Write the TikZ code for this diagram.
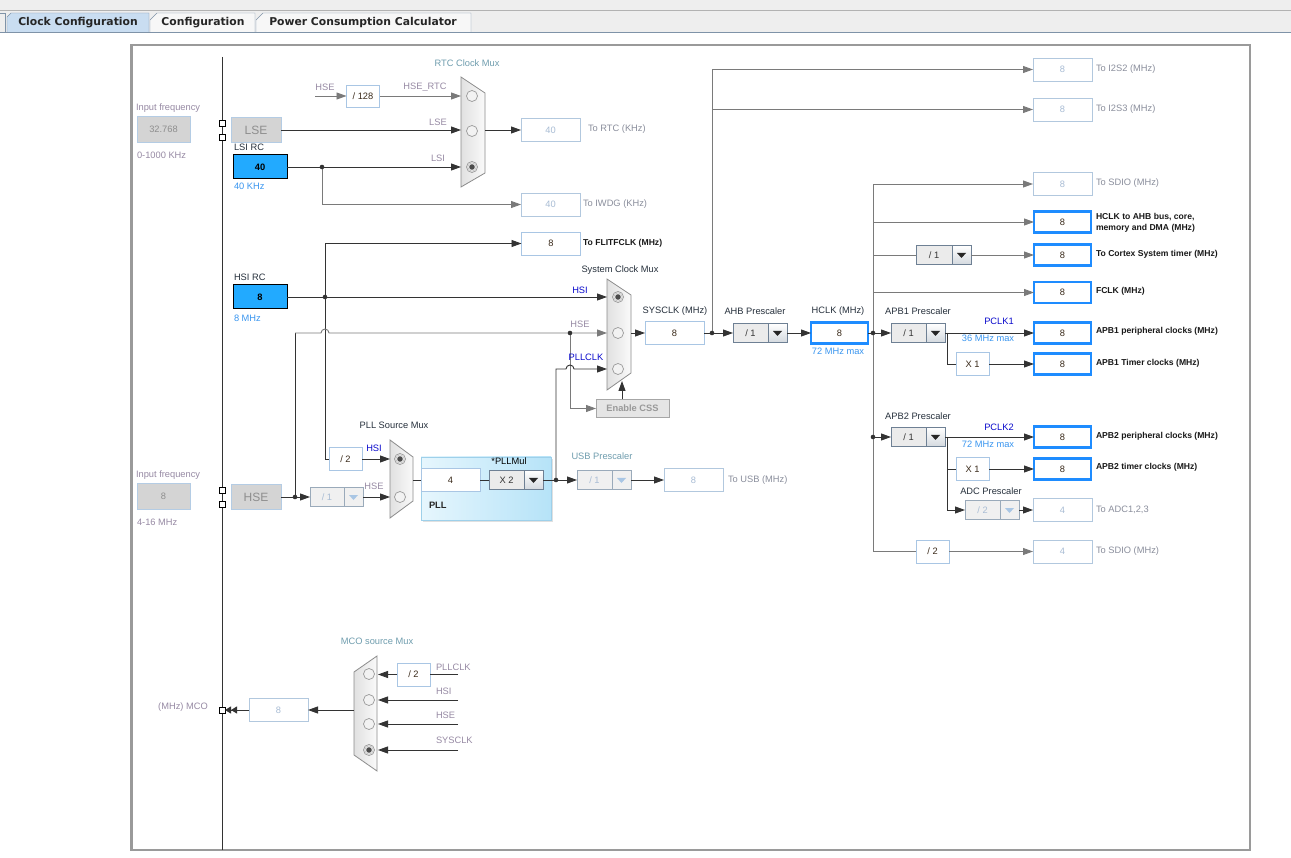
\documentclass[tikz,border=0pt]{standalone}
\usepackage{fontspec}
\setmainfont{Liberation Sans}
\newfontfamily\tabfont{DejaVu Sans}
\usetikzlibrary{arrows.meta,calc}
\definecolor{wireK}{HTML}{333333}
\definecolor{wireG}{HTML}{7A7A7A}
\definecolor{bxBorder}{HTML}{A9C6E4}
\definecolor{bxDis}{HTML}{B2C8DE}
\definecolor{actBlue}{HTML}{1E8CFF}
\definecolor{srcBlue}{HTML}{22AAFF}
\definecolor{lblGray}{HTML}{978AA4}
\definecolor{lblTeal}{HTML}{6F9DAE}
\definecolor{lblDark}{HTML}{26303C}
\definecolor{lblBlue}{HTML}{0A0ACC}
\definecolor{lblLBlue}{HTML}{3A96F0}
\definecolor{outGray}{HTML}{8A8E9C}
\definecolor{muxEdge}{HTML}{8C8C8C}
\definecolor{valK}{HTML}{3A2A1A}
\definecolor{valD}{HTML}{A8BCD4}
\definecolor{grFill}{HTML}{D4D4D4}
\definecolor{grBorder}{HTML}{B4CCE4}
\definecolor{grText}{HTML}{8E8E8E}
\definecolor{tabbg}{HTML}{EEEEEE}
\definecolor{tabEdge}{HTML}{7F93A8}
\definecolor{tabSel}{HTML}{C9DDF1}
\definecolor{frameGray}{HTML}{9A9A9A}
\definecolor{cbEdge}{HTML}{6E8094}
\definecolor{cbEdgeD}{HTML}{9AAABA}
\definecolor{pllL}{HTML}{E6F6FD}
\definecolor{pllR}{HTML}{B6E3F8}
\definecolor{pllEdge}{HTML}{9ED0EA}
\newcommand\fsz{\fontsize{9.3}{11}\selectfont}
\newcommand\fbd{\fontsize{8.6}{11.5}\selectfont\bfseries}
\tikzset{
  every node/.style={inner sep=0pt, outer sep=0pt},
  wk/.style={draw=wireK, line width=0.9},
  wg/.style={draw=wireG, line width=0.9},
  arr/.style={-{Triangle[length=10pt,width=7pt]}},
  obox/.style={draw=bxBorder, fill=white, line width=0.9, minimum width=59, minimum height=23, font=\fsz, text=valK},
  sbox/.style={obox, minimum width=33},
  dbox/.style={draw=bxDis, fill=white, line width=0.9, minimum width=59, minimum height=23, font=\fsz, text=valD},
  abox/.style={draw=actBlue, fill=white, line width=2.2, minimum width=57, minimum height=21, font=\fsz, text=valK},
  srcbox/.style={draw=black, fill=srcBlue, line width=1, minimum width=54, minimum height=24, font=\fsz\bfseries, text=black},
  grbox/.style={draw=grBorder, fill=grFill, line width=0.9, minimum width=50, minimum height=25, font=\fontsize{12}{13}\selectfont, text=grText},
  inbox/.style={draw=grBorder, fill=grFill, line width=0.9, minimum width=53, minimum height=26, font=\fsz, text=grText},
  cssbox/.style={draw=black!35, fill=black!10, line width=0.9, minimum width=73, minimum height=18, font=\fsz\bfseries, text=black!40},
  pinsq/.style={draw=black, fill=white, line width=0.7, minimum size=6},
  cbL/.style={draw=cbEdge, fill=black!8, line width=0.9, minimum height=19, font=\fsz, text=black!80},
  cbR/.style={draw=cbEdge, top color=white, bottom color=cbEdge!30, line width=0.9, minimum width=19, minimum height=19},
  cbLd/.style={draw=cbEdgeD, fill=black!6, line width=0.9, minimum height=19, font=\fsz, text=valD},
  cbRd/.style={draw=cbEdgeD, fill=black!6, line width=0.9, minimum width=19, minimum height=19},
  tri/.style={fill=black!85},
  trid/.style={fill=bxBorder},
  mux/.style={draw=muxEdge, line width=0.8, left color=black!12, right color=black!2},
  radio/.style={draw=black!40, fill=black!5, line width=0.7},
  radiodot/.style={fill=black!70},
  lg/.style={font=\fsz, text=lblGray},
  lt/.style={font=\fsz, text=lblTeal},
  ld/.style={font=\fsz, text=lblDark},
  lb/.style={font=\fsz, text=lblBlue},
  llb/.style={font=\fsz, text=lblLBlue},
  lo/.style={font=\fsz, text=outGray},
  lbold/.style={font=\fbd, text=black!90},
  lmux/.style={font=\fsz, text=lblDark},
  tabtxt/.style={font=\tabfont\fontsize{10.8}{12}\selectfont\bfseries, text=black!85},
}
\newcommand\cmbx[6]{%
  \node[cbL#6, minimum width=#4, anchor=west] (#1) at (#2,#3) {#5};
  \node[cbR#6, anchor=west] (#1r) at (#1.east) {};
  \fill[tri#6] ($(#1r.center)+(-4.5,-2)$) -- ++(9,0) -- ++(-4.5,5) -- cycle;
}
\newcommand\rad[2]{\filldraw[radio] (#1,#2) circle[radius=5.5];}
\newcommand\radsel[2]{\filldraw[radio] (#1,#2) circle[radius=5.5]; \draw[black!25, line width=0.6] (#1,#2) circle[radius=4.2]; \fill[radiodot] (#1,#2) circle[radius=2.8];}
\newcommand\jdot[1]{\fill[wireK] (#1) circle[radius=2.3];}
\begin{document}
\begin{tikzpicture}[x=1pt,y=-1pt]
\useasboundingbox (0,0) rectangle (1291,858);
\fill[white] (0,0) rectangle (1291,858);
% ---- tab bar
\fill[tabbg] (0,0) rectangle (1291,32);
\draw[black!30] (0,10.5) -- (1291,10.5);
\filldraw[fill=tabSel, draw=tabEdge] (7,32) -- (7,17) -- (11,13) -- (149,13) -- (149,32);
\filldraw[fill=black!3, draw=tabEdge] (150,32) -- (150,20) -- (157,13) -- (255,13) -- (255,32);
\filldraw[fill=black!3, draw=tabEdge] (256,32) -- (256,20) -- (263,13) -- (471,13) -- (471,32);
\draw[tabEdge] (0,13) -- (5,13) -- (5,32);
\draw[tabEdge, line width=1] (0,32.5) -- (1291,32.5);
\node[tabtxt] (tab1) at (78,23) {Clock Configuration};
\node[tabtxt] (tab2) at (203,23) {Configuration};
\node[tabtxt] (tab3) at (363,23) {Power Consumption Calculator};
% ---- frame and bus
\draw[draw=frameGray, line width=2.5] (131.5,45) rectangle (1250,850);
\draw[wk, line width=1] (222,57) -- (222,850);
% ---- LSE / LSI inputs
\node[lg, anchor=west] (inf1) at (136,108) {Input frequency};
\node[inbox] (lsefreq) at (163.5,129) {32.768};
\node[lg, anchor=west] (lserng) at (137,155) {0-1000 KHz};
\node[pinsq] (pinA) at (222,123) {};
\node[pinsq] (pinB) at (222,137) {};
\node[grbox] (lse) at (256,130) {LSE};
\node[ld, anchor=west] (lsilbl) at (234,147) {LSI RC};
\node[srcbox] (lsi) at (260,167) {40};
\node[llb, anchor=west] (lsikhz) at (234,186) {40 KHz};
% ---- RTC mux
\draw[mux] (461,77) -- (485,93) -- (485,173) -- (461,187) -- cycle;
\rad{472}{96} \rad{472}{131} \radsel{472}{167}
\coordinate (rtcA) at (461,96);
\coordinate (rtcB) at (461,130);
\coordinate (rtcC) at (461,167);
\coordinate (rtcO) at (485,130);
\node[lt] (rtcmuxlbl) at (467,63) {RTC Clock Mux};
\coordinate (hseIn) at (315,96);
\node[lg] (hselbl1) at (325,87) {HSE};
\node[sbox, minimum height=22] (d128) at (363,96) {/ 128};
\draw[wg, arr] (hseIn) -- (d128.west);
\draw[wg, arr] (d128.east) -- (rtcA);
\node[lg] (hsertclbl) at (425,87) {HSE\_RTC};
\draw[wk, arr] (lse.east) -- (rtcB);
\node[lg] (lselbl) at (438,122) {LSE};
\draw[wk, arr] (lsi.east) -- (rtcC);
\node[lg] (lsilbl2) at (438,158) {LSI};
\node[dbox] (rtcbox) at (550.5,130) {40};
\draw[wk, arr] (rtcO) -- (rtcbox.west);
\node[lo, anchor=west] (rtclbl) at (588,129) {To RTC (KHz)};
\coordinate (lsidot) at (322,167);
\node[dbox] (iwdg) at (550.5,204.5) {40};
\draw[wg, arr] (lsidot) |- (iwdg.west);
\jdot{lsidot}
\node[lo, anchor=west] (iwdglbl) at (583,204) {To IWDG (KHz)};
% ---- HSI
\node[ld, anchor=west] (hsilbl) at (234,277) {HSI RC};
\node[srcbox] (hsi) at (260,297) {8};
\node[llb, anchor=west] (hsimhz) at (234,318) {8 MHz};
\draw[mux] (607,279) -- (631,295) -- (631,373) -- (607,390) -- cycle;
\radsel{618}{297} \rad{618}{333} \rad{618}{369}
\coordinate (sysA) at (607,297);
\coordinate (sysB) at (607,333);
\coordinate (sysC) at (607,369);
\coordinate (sysO) at (631,333);
\node[lmux] (sysmuxlbl) at (620,270) {System Clock Mux};
\coordinate (hsidot) at (325,297);
\draw[wk, arr] (hsi.east) -- (sysA);
\node[lb] (hsilbl2) at (580,290) {HSI};
\node[obox] (flit) at (551,243.5) {8};
\draw[wk, arr] (hsidot) |- (flit.west);
\node[lbold, anchor=west] (flitlbl) at (583,243.5) {To FLITFCLK (MHz)};
\node[sbox] (div2a) at (345.5,459) {/ 2};
\draw[wk] (hsidot) |- (div2a.west);
\jdot{hsidot}
% ---- PLL source mux
\draw[mux] (390,440) -- (413,457) -- (413,501) -- (390,518) -- cycle;
\radsel{400}{459} \rad{400}{497}
\coordinate (pllA) at (390,459);
\coordinate (pllB) at (390,497);
\coordinate (pllO) at (413,480);
\node[lmux] (pllmuxlbl) at (394,425) {PLL Source Mux};
\draw[wk, arr] (div2a.east) -- (pllA);
\node[lb] (hsilbl3) at (374,448) {HSI};
% ---- HSE
\node[lg, anchor=west] (inf2) at (136,475) {Input frequency};
\node[inbox] (hsefreq) at (163.5,496) {8};
\node[lg, anchor=west] (hserng) at (137,522) {4-16 MHz};
\node[pinsq] (pinC) at (222,490) {};
\node[pinsq] (pinD) at (222,504) {};
\node[grbox] (hse) at (256,497) {HSE};
\cmbx{hsediv}{310}{497}{34}{/ 1}{d}
\coordinate (hsedot) at (295,497);
\draw[wk, arr] (hse.east) -- (hsediv.west);
\draw[wk, arr] (hsedivr.east) -- (pllB);
\node[lg] (hselbl3) at (374,486) {HSE};
\coordinate (hseC) at (295,333);
\coordinate (hop1) at (321,333);
\draw[wk] (hsedot) -- (hseC);
\draw[wg, arr] (hseC) -- (hop1) arc[start angle=180, end angle=360, radius=4] -- (sysB);
\jdot{hsedot}
\node[lg] (hselbl2) at (580,324) {HSE};
\coordinate (hsedot2) at (570,333);
\node[cssbox] (css) at (632.5,408.5) {Enable CSS};
\draw[wg, arr] (hsedot2) |- (css.west);
\jdot{hsedot2}
\coordinate (sysBot) at (622,381);
\draw[wk, arr] (css.north -| sysBot) -- (sysBot);
% ---- PLL
\fill[black!12] (423,459) rectangle (553,522);
\shade[left color=pllL, right color=pllR] (421,457) rectangle (551,520);
\draw[pllEdge, line width=0.9] (421,457) rectangle (551,520);
\node (pll) at (486,488.5) {};
\node[obox] (pllin) at (450.5,480) {4};
\draw[wk] (pllO) -- (pllin.west);
\node[font=\fsz, text=black] (pllmullbl) at (509,461) {*PLLMul};
\cmbx{pllmul}{489}{480}{35}{X 2}{}
\draw[wk] (pllin.east) -- (pllmul.west);
\node[font=\fsz\bfseries, text=black!85, anchor=west] (plllbl) at (429,505) {PLL};
\coordinate (plldot) at (556,480);
\draw[wk] (pllmulr.east) -- (plldot);
\coordinate (pllC) at (556,369);
\coordinate (hop2) at (566,369);
\draw[wk, arr] (plldot) -- (pllC) -- (hop2) arc[start angle=180, end angle=360, radius=4] -- (sysC);
\node[lb] (pllclklbl) at (586,357) {PLLCLK};
\cmbx{usbdiv}{577}{480}{35}{/ 1}{d}
\draw[wk, arr] (plldot) -- (usbdiv.west);
\jdot{plldot}
\node[dbox] (usb) at (693.5,480) {8};
\draw[wk, arr] (usbdivr.east) -- (usb.west);
\node[lt] (usblbl) at (602,456) {USB Prescaler};
\node[lo, anchor=west] (usbout) at (728,480) {To USB (MHz)};
% ---- SYSCLK / AHB
\node[obox] (sysclk) at (674.5,333) {8};
\node[ld] (sysclklbl) at (675,311) {SYSCLK (MHz)};
\draw[wk, arr] (sysO) -- (sysclk.west);
\coordinate (sysdot) at (712,333);
\cmbx{ahb}{733}{333}{35}{/ 1}{}
\draw[wk, arr] (sysclk.east) -- (ahb.west);
\node[ld] (ahblbl) at (755,311) {AHB Prescaler};
\node[dbox] (i2s2) at (1062.5,69.5) {8};
\node[dbox] (i2s3) at (1062.5,109.5) {8};
\draw[wg, arr] (sysdot) |- (i2s2.west);
\coordinate (i2sbr) at (712,109.5);
\draw[wg, arr] (i2sbr) -- (i2s3.west);
\jdot{sysdot}
\node[lo, anchor=west] (i2s2lbl) at (1096,69) {To I2S2 (MHz)};
\node[lo, anchor=west] (i2s3lbl) at (1096,109) {To I2S3 (MHz)};
\node[abox] (hclk) at (839.5,333) {8};
\node[ld] (hclklbl) at (838,311) {HCLK (MHz)};
\node[llb] (hclkmax) at (838,351) {72 MHz max};
\draw[wk, arr] (ahbr.east) -- (hclk.west);
% ---- right column
\coordinate (hcdot) at (873,333);
\coordinate (apb2dot) at (873,437);
\node[dbox] (sdio) at (1062.5,184) {8};
\node[abox] (hcahb) at (1062.5,222) {8};
\node[abox] (cortex) at (1062.5,255) {8};
\node[abox] (fclk) at (1062.5,292.5) {8};
\node[abox] (apb1p) at (1062.5,333) {8};
\node[abox] (apb1t) at (1062.5,364) {8};
\node[abox] (apb2p) at (1062.5,437) {8};
\node[abox] (apb2t) at (1062.5,469) {8};
\node[dbox] (adc) at (1062.5,510) {4};
\node[dbox] (sdio2) at (1062.5,551.5) {4};
\draw[wg, arr] (hcdot) |- (sdio.west);
\draw[wg, arr] (hcdot) |- (hcahb.west);
\cmbx{cort}{916}{255}{36}{/ 1}{}
\draw[wg] (hcdot) |- (cort.west);
\draw[wg, arr] (cortr.east) -- (cortex.west);
\draw[wg, arr] (hcdot) |- (fclk.west);
\node[sbox] (div2b) at (932.5,551.5) {/ 2};
\draw[wg] (hcdot) |- (div2b.west);
\draw[wg, arr] (div2b.east) -- (sdio2.west);
\cmbx{apbA}{891}{333}{35}{/ 1}{}
\draw[wk, arr] (hclk.east) -- (apbA.west);
\jdot{hcdot}
\draw[wk, arr] (apbAr.east) -- (apb1p.west);
\coordinate (apbAbr) at (947,333);
\node[sbox] (x1a) at (972.5,364) {X 1};
\draw[wk] (apbAbr) |- (x1a.west);
\draw[wk, arr] (x1a.east) -- (apb1t.west);
\cmbx{apbB}{891}{437}{35}{/ 1}{}
\draw[wk, arr] (apb2dot) -- (apbB.west);
\jdot{apb2dot}
\draw[wk, arr] (apbBr.east) -- (apb2p.west);
\coordinate (apbBbr) at (947,437);
\node[sbox] (x1b) at (972.5,469) {X 1};
\coordinate (x1btick) at (947,469);
\draw[wk] (x1btick) -- (x1b.west);
\draw[wk, arr] (x1b.east) -- (apb2t.west);
\cmbx{adcd}{965}{510}{35}{/ 2}{d}
\draw[wk, arr] (apbBbr) |- (adcd.west);
\draw[wk, arr] (adcdr.east) -- (adc.west);
\node[ld] (apb1lbl) at (918,311) {APB1 Prescaler};
\node[ld] (apb2lbl) at (918,416) {APB2 Prescaler};
\node[ld] (adclbl) at (991,491) {ADC Prescaler};
\node[lb] (pclk1) at (999,321) {PCLK1};
\node[llb] (pclk1max) at (988,338) {36 MHz max};
\node[lb] (pclk2) at (999,427) {PCLK2};
\node[llb] (pclk2max) at (988,444) {72 MHz max};
\node[lo, anchor=west] (sdiolbl) at (1096,183) {To SDIO (MHz)};
\node[lbold, anchor=west, align=left] (hcahblbl) at (1096,223) {HCLK to AHB bus, core,\\memory and DMA (MHz)};
\node[lbold, anchor=west] (cortlbl) at (1096,254) {To Cortex System timer (MHz)};
\node[lbold, anchor=west] (fclklbl) at (1096,291) {FCLK (MHz)};
\node[lbold, anchor=west] (apb1plbl) at (1096,331) {APB1 peripheral clocks (MHz)};
\node[lbold, anchor=west] (apb1tlbl) at (1096,363) {APB1 Timer clocks (MHz)};
\node[lbold, anchor=west] (apb2plbl) at (1096,436) {APB2 peripheral clocks (MHz)};
\node[lbold, anchor=west] (apb2tlbl) at (1096,467) {APB2 timer clocks (MHz)};
\node[lo, anchor=west] (adclbl2) at (1096,510) {To ADC1,2,3};
\node[lo, anchor=west] (sdio2lbl) at (1096,551) {To SDIO (MHz)};
% ---- MCO
\draw[mux] (354,672) -- (377,656) -- (377,771) -- (354,755) -- cycle;
\rad{369}{674} \rad{369}{700} \rad{369}{724} \radsel{369}{750}
\coordinate (mcoA) at (378,674.5);
\coordinate (mcoB) at (378,700);
\coordinate (mcoC) at (378,724);
\coordinate (mcoD) at (378,750);
\coordinate (mcoO) at (354,710);
\node[lt] (mcomuxlbl) at (377,641) {MCO source Mux};
\node[sbox] (mdiv) at (413.5,674.5) {/ 2};
\coordinate (mIn1) at (458,674.5);
\coordinate (mIn2) at (458,700);
\coordinate (mIn3) at (458,724);
\coordinate (mIn4) at (458,750);
\draw[wk] (mIn1) -- (mdiv.east);
\draw[wk, arr] (mdiv.west) -- (mcoA);
\draw[wk, arr] (mIn2) -- (mcoB);
\draw[wk, arr] (mIn3) -- (mcoC);
\draw[wk, arr] (mIn4) -- (mcoD);
\node[lg, anchor=west] (mlbl1) at (436,667) {PLLCLK};
\node[lg, anchor=west] (mlbl2) at (436,691) {HSI};
\node[lg, anchor=west] (mlbl3) at (436,715) {HSE};
\node[lg, anchor=west] (mlbl4) at (436,740) {SYSCLK};
\node[dbox] (mco) at (278.5,710) {8};
\draw[wk, arr] (mcoO) -- (mco.east);
\node[pinsq] (pinM) at (222,710) {};
\draw[wk, -{Triangle[length=6pt,width=7pt]Triangle[length=6pt,width=7pt]}] (mco.west) -- (pinM.east);
\node[lg] (mcolbl) at (183,707) {(MHz) MCO};
\end{tikzpicture}
\end{document}
